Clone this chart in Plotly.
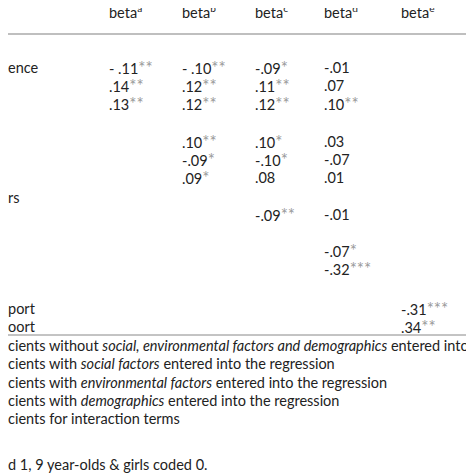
import plotly.graph_objects as go

headers = ["beta<sup>a</sup>", "beta<sup>b</sup>", "beta<sup>c</sup>", "beta<sup>d</sup>", "beta<sup>e</sup>"]
row_labels = {"r0": "ence", "r6": "rs", "r12": "port", "r13": "oort"}
col_a = {"r0": ("- .11", "**"), "r1": (".14", "**"), "r2": (".13", "**")}
col_b = {"r0": ("- .10", "**"), "r1": (".12", "**"), "r2": (".12", "**"),
         "r3": (".10", "**"), "r4": ("-.09", "*"), "r5": (".09", "*")}
col_c = {"r0": ("-.09", "*"), "r1": (".11", "**"), "r2": (".12", "**"),
         "r3": (".10", "*"), "r4": ("-.10", "*"), "r5": (".08", ""), "r7": ("-.09", "**")}
col_d = {"r0": ("-.01", ""), "r1": (".07", ""), "r2": (".10", "**"),
         "r3": (".03", ""), "r4": ("-.07", ""), "r5": (".01", ""), "r7": ("-.01", ""),
         "r9": ("-.07", "*"), "r10": ("-.32", "***")}
col_e = {"r12": ("-.31", "***"), "r13": (".34", "**")}
footnotes = [
    "cients without <i>social, environmental factors and demographics</i> entered into the regression",
    "cients with <i>social factors</i> entered into the regression",
    "cients with <i>environmental factors</i> entered into the regression",
    "cients with <i>demographics</i> entered into the regression",
    "cients for interaction terms",
    "",
    "d 1, 9 year-olds &amp; girls coded 0.",
]

# layout positions (pixels)
W = H = 474
DY = -7
row_y = {"r0": 66, "r1": 84, "r2": 102, "r3": 140, "r4": 158, "r5": 176, "r6": 196,
         "r7": 213, "r9": 249, "r10": 267, "r12": 307, "r13": 325}
col_x = [99, 172, 245, 314, 391]
foot_y = [344, 362, 381, 399, 417, 435, 463]
FONT = "Lato, Open Sans, sans-serif"

def px(x): return x / W
def py(y): return 1 - (y + DY) / H

ann = []
def add(x, y, text, size=14.5):
    ann.append(dict(x=px(x), y=py(y), xref="paper", yref="paper", text=text, showarrow=False,
                    xanchor="left", yanchor="middle", font=dict(family=FONT, size=size, color="#222")))

for x, h in zip(col_x, headers):
    add(x, 10, h)
for k, t in row_labels.items():
    add(-2, row_y[k], t)
for x, col in zip(col_x, [col_a, col_b, col_c, col_d, col_e]):
    for k, (v, s) in col.items():
        txt = v + (f"<span style='color:#9a9a9a;font-size:17px'>{s}</span>" if s else "")
        add(x, row_y[k], txt)
for y, t in zip(foot_y, footnotes):
    if t:
        add(-2, y, t)
# right-edge fragments
for y in [50, 123, 218, 235, 292]:
    add(464, y, "-")
add(466, 10, "I")

fig = go.Figure()
fig.update_layout(width=W, height=H, margin=dict(l=0, r=0, t=0, b=0),
                  paper_bgcolor="white", plot_bgcolor="white",
                  xaxis=dict(visible=False, range=[0, 1]), yaxis=dict(visible=False, range=[0, 1]),
                  annotations=ann,
                  shapes=[dict(type="line", xref="paper", yref="paper", x0=0, x1=1, y0=py(33), y1=py(33),
                               line=dict(color="#aaaaaa", width=1.5)),
                          dict(type="line", xref="paper", yref="paper", x0=0, x1=1, y0=py(334), y1=py(334),
                               line=dict(color="#888888", width=1))])
fig.write_html("out.html")
